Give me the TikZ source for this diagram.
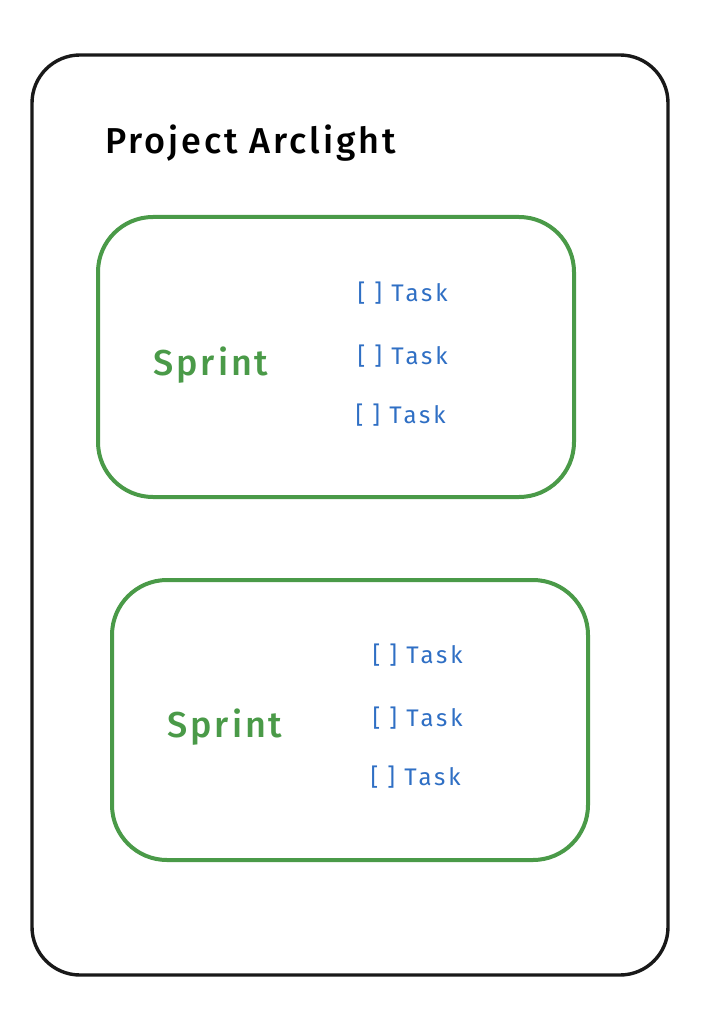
\documentclass[tikz,border=0pt]{standalone}
\usepackage{fontspec}
\setmainfont{Fira Sans}
\newfontfamily\wide{Fira Sans Medium}[LetterSpace=8]
\newfontfamily\wider{Fira Sans}[LetterSpace=12]
\definecolor{grn}{HTML}{4A9A48}
\definecolor{blu}{HTML}{2F6FC4}
\begin{document}
\begin{tikzpicture}[x=1pt,y=-1pt,
  frame/.style={draw=black!90,line width=3.4pt,rounded corners=48pt},
  sprintbox/.style={draw=grn,line width=4pt,rounded corners=55pt},
  title/.style={font=\wide\fontsize{36}{42}\selectfont,anchor=west},
  sprintlbl/.style={text=grn,font=\wide\fontsize{36}{42}\selectfont},
  task/.style={text=blu,font=\wider\fontsize{24}{28}\selectfont,anchor=west}]
\useasboundingbox (0,0) rectangle (719,1024);
\draw[frame] (32,55) rectangle (668,975);
\node[title] (t) at (102,143) {Project Arclight};
\draw[sprintbox] (98,217) rectangle (574,497);
\node[sprintlbl] (s1) at (211,365) {Sprint};
\node[task] (a1) at (354,293) {[ ] Task};
\node[task] (a2) at (354,356) {[ ] Task};
\node[task] (a3) at (352,415) {[ ] Task};
\draw[sprintbox] (112,580) rectangle (588,860);
\node[sprintlbl] (s2) at (225,727) {Sprint};
\node[task] (b1) at (369,655) {[ ] Task};
\node[task] (b2) at (369,718) {[ ] Task};
\node[task] (b3) at (367,777) {[ ] Task};
\end{tikzpicture}
\end{document}
